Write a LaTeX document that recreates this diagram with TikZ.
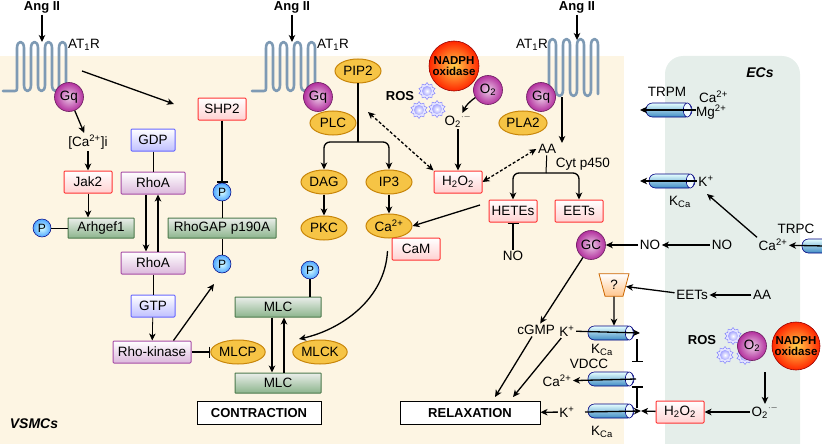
\documentclass[tikz,border=0pt]{standalone}
\usepackage{fontspec}
\setmainfont{Liberation Sans}
\usetikzlibrary{arrows.meta,shapes.geometric,calc}
\definecolor{cream}{HTML}{FDF5E3}
\definecolor{ecbg}{HTML}{E5EEEA}
\definecolor{recblue}{HTML}{7E9AB4}
\definecolor{orng}{HTML}{F6C445}
\definecolor{orngd}{HTML}{C8860A}
\definecolor{chb}{HTML}{3F8CC4}
\definecolor{gqc}{HTML}{B3309E}
\newcommand{\sub}[1]{\textsubscript{#1}}
\newcommand{\sups}[1]{\textsuperscript{#1}}
\newcommand{\myrec}[3]{% x0, top, bottom
  \draw[rec] ({#1-14},{#3+6}) -- ({#1-2},{#3+6}) .. controls ({#1},{#3+6}) .. (#1,#3) -- (#1,#2)
    .. controls (#1,{#2-8}) and ({#1+7},{#2-8}) .. ({#1+7},#2) -- ({#1+7},#3)
    .. controls ({#1+7},{#3+8}) and ({#1+14},{#3+8}) .. ({#1+14},#3) -- ({#1+14},#2)
    .. controls ({#1+14},{#2-8}) and ({#1+21},{#2-8}) .. ({#1+21},#2) -- ({#1+21},#3)
    .. controls ({#1+21},{#3+8}) and ({#1+28},{#3+8}) .. ({#1+28},#3) -- ({#1+28},#2)
    .. controls ({#1+28},{#2-8}) and ({#1+35},{#2-8}) .. ({#1+35},#2) -- ({#1+35},#3)
    .. controls ({#1+35},{#3+8}) and ({#1+42},{#3+8}) .. ({#1+42},#3) -- ({#1+42},#2)
    .. controls ({#1+42},{#2-8}) and ({#1+49},{#2-8}) .. ({#1+49},#2) -- ({#1+49},{#3+4});}
\newcommand{\rosstar}[2]{%
  \node[star, star points=10, star point ratio=1.35, draw=blue!55, fill=blue!10, minimum size=17pt, inner sep=0pt] at (#1,#2) {};
  \node[circle, shading=radial, inner color=white, outer color=blue!35, minimum size=10pt, inner sep=0pt] at (#1,#2) {};}
\newcommand{\chanx}[3]{% name, x, y
  \node[chbody] (#1) at (#2,#3) {};
  \draw[blue!50!black, line width=0.6pt, fill=cyan!6] ([xshift=-5pt]#1.east) ellipse (4pt and 7pt);}
\tikzset{
  every node/.style={font=\fontsize{13.5}{14}\selectfont, inner sep=1.5pt},
  ar/.style={line width=1.3pt, -{Stealth[length=7pt,width=6.5pt,inset=2pt]}},
  inh/.style={line width=1.3pt, -{Bar[width=11pt,line width=1.5pt]}},
  dar/.style={line width=1.3pt, densely dashed, {Stealth[length=7pt,width=6.5pt,inset=2pt]}-{Stealth[length=7pt,width=6.5pt,inset=2pt]}},
  ln/.style={line width=1pt},
  rec/.style={draw=recblue, line width=2.6pt, line cap=round, line join=round},
  redb/.style={draw=red!80, line width=1pt, top color=white, bottom color=red!18, minimum height=22pt, minimum width=48pt, rounded corners=1pt},
  grnb/.style={draw=green!25!black!70, line width=1pt, top color=green!10!gray!15!white, bottom color=green!35!black!45, minimum height=20pt, rounded corners=0.5pt},
  blub/.style={draw=blue!60, line width=1pt, top color=white, bottom color=blue!25, minimum height=22pt, minimum width=44pt, rounded corners=1pt},
  purb/.style={draw=violet!70, line width=1pt, top color=white, bottom color=violet!28, minimum height=22pt, minimum width=64pt, rounded corners=1pt},
  ell/.style={ellipse, draw=orngd, line width=1pt, fill=orng, inner sep=0.5pt, minimum width=46pt, minimum height=24pt},
  gq/.style={circle, shading=radial, inner color=gqc!25!white, outer color=gqc, draw=gqc!60!black, line width=0.6pt, minimum size=29pt, inner sep=0pt},
  pp/.style={circle, shading=radial, inner color=cyan!15!white, outer color=cyan!50!blue!70, draw=blue!50!black, line width=0.5pt, minimum size=18pt, inner sep=0pt, font=\fontsize{12}{12}\selectfont},
  nadph/.style={circle, shading=radial, inner color=orange!50!yellow!70!white, outer color=red!70!orange, draw=red!60!black, line width=0.6pt, minimum size=50pt, inner sep=0pt, align=center, font=\fontsize{11.5}{11.5}\selectfont\bfseries},
  chbody/.style={rectangle, rounded corners=6.5pt, minimum width=46pt, minimum height=14pt, inner sep=0pt, draw=blue!50!black, line width=0.6pt, top color=cyan!10, bottom color=chb},
  outb/.style={draw, line width=1pt, fill=white, minimum height=23pt, font=\fontsize{13}{14}\selectfont\bfseries},
  bold/.style={font=\fontsize{13}{14}\selectfont\bfseries},
}
\begin{document}
\begin{tikzpicture}[x=1pt,y=-1pt]
\useasboundingbox (0,0) rectangle (822,444);
% backgrounds
\fill[cream] (0,56) rectangle (624,444);
\fill[ecbg, rounded corners=18pt] (665,56) rectangle (800,470);
\node[font=\fontsize{14}{15}\selectfont\bfseries\itshape] (vsmc) at (34,424) {VSMCs};
\node[font=\fontsize{14}{15}\selectfont\bfseries\itshape] (ecs) at (760,73) {ECs};

% receptors
\myrec{17}{48}{85}
\myrec{266}{48}{85}
\myrec{549}{45}{90}
\node[bold] (ang1) at (42,7) {Ang II};
\node[bold] (ang2) at (292,7) {Ang II};
\node[bold] (ang3) at (577,7) {Ang II};
\coordinate (r1) at (42,42); \coordinate (r2) at (292,42); \coordinate (r3) at (577,40);
\node (at1) at (84,45) {AT\sub{1}R};
\node (at2) at (333,45) {AT\sub{1}R};
\node (at3) at (532,45) {AT\sub{1}R};
\draw[ar] (ang1) -- (r1);
\draw[ar] (ang2) -- (r2);
\draw[ar] (ang3) -- (r3);

% left pathway
\node[gq] (gq1) at (69,97) {Gq};
\coordinate (a1) at (82,71);
\node[redb] (shp2) at (222,109) {SHP2};
\draw[ar] (a1) -- (174,104);
\node (cai) at (88,142) {[Ca\sups{2+}]i};
\node[redb] (jak2) at (88,182) {Jak2};
\node[grnb, minimum width=66pt] (arh) at (101,228) {Arhgef1};
\node[pp] (p1) at (42,228) {P};
\draw[ar] (gq1) -- (cai);
\draw[ar] (cai) -- (jak2);
\draw[ar, line width=0.8pt] (jak2) -- (arh.north -| jak2);
\draw[ln] (p1) -- (arh);
\node[blub] (gdp) at (153,140) {GDP};
\node[purb] (rhoa1) at (153,183) {RhoA};
\node[purb] (rhoa2) at (153,263) {RhoA};
\node[blub] (gtp) at (153,306) {GTP};
\node[purb, minimum width=78pt] (rk) at (152,352) {Rho-kinase};
\draw[ln] (gdp) -- (rhoa1);
\draw[ln] (rhoa2) -- (gtp);
\draw[ar, line width=0.8pt] (gtp) -- (rk);
\draw[ar] ([xshift=-7pt]rhoa1.south) -- ([xshift=-7pt]rhoa2.north);
\draw[ar] ([xshift=5pt]rhoa2.north) -- ([xshift=5pt]rhoa1.south);
\node[pp] (p2) at (222,192) {P};
\node[grnb, minimum width=108pt] (gap) at (222,228) {RhoGAP p190A};
\node[pp] (p3) at (222,264) {P};
\draw[inh] (shp2) -- (p2);
\draw[ln] (p2) -- (gap);
\draw[ln] (gap) -- (p3);
\draw[ar] (rk.north east) ++(-18,0) coordinate (rk1) -- (214,284);
\node[ell] (mlcp) at (238,352) {MLCP};
\draw[inh] (rk) -- (mlcp);
\node[grnb, minimum width=86pt] (mlc1) at (278,307) {MLC};
\node[pp] (p4) at (310,270) {P};
\draw[line width=1.3pt] (p4) -- (p4 |- mlc1.north);
\node[ell] (mlck) at (320,352) {MLCK};
\node[grnb, minimum width=86pt] (mlc2) at (278,383) {MLC};
\draw[ar] ([xshift=-6pt]mlc1.south) -- ([xshift=-6pt]mlc2.north);
\draw[ar] ([xshift=6pt]mlc2.north) -- ([xshift=6pt]mlc1.south);
\node[outb, minimum width=124pt] (contr) at (259,413) {CONTRACTION};

% middle pathway
\node[gq] (gq2) at (318,97) {Gq};
\node[ell] (plc) at (333,123) {PLC};
\node[ell] (pip2) at (358,71) {PIP2};
\coordinate (br) at (358,142);
\node[ell] (dag) at (324,182) {DAG};
\node[ell] (ip3) at (389,182) {IP3};
\node[ell] (pkc) at (324,228) {PKC};
\node[ell] (ca1) at (389,226) {Ca\sups{2+}};
\node[redb] (cam) at (416,249) {CaM};
\draw[line width=1.3pt] (pip2) -- (br);
\draw[ar, rounded corners=6pt] (br) -- (dag |- br) -- (dag);
\draw[ar, rounded corners=6pt] (br) -- (ip3 |- br) -- (ip3);
\draw[ar] (dag) -- (pkc);
\draw[ar] (ip3) -- (ca1);
\draw[ar] (cam.west) ++(-4,2) .. controls (385,300) and (340,330) .. (299,339);

% ROS / H2O2
\node[bold] (ros1) at (400,96) {ROS};
\rosstar{427}{91}\rosstar{419}{110}\rosstar{437}{109}
\node[nadph] (nad1) at (454,66) {NADPH\\oxidase};
\node[gq] (o2a) at (488,90) {O\sub{2}};
\node (sup1) at (458,121) {O\sub{2}\sups{$\cdot-$}};
\node[redb] (h2o2a) at (458,182) {H\sub{2}O\sub{2}};
\draw[ar] (o2a) to[bend right=15] (sup1);
\draw[ar] (sup1) -- (h2o2a);
\coordinate (pipd) at (368,112);
\draw[dar] (pipd) -- (h2o2a.north west);

% right VSMC pathway
\node[gq] (gq3) at (541,97) {Gq};
\node[ell] (pla2) at (523,123) {PLA2};
\node (aa1) at (547,149) {AA};
\coordinate (r3b) at (562,97);
\draw[ar] (r3b) -- (562,143);
\draw[dar] (aa1.west) -- (h2o2a.east);
\node (cyt) at (583,164) {Cyt p450};
\coordinate (br2) at (546,173);
\node[redb] (hetes) at (513,211) {HETEs};
\node[redb] (eets1) at (579,211) {EETs};
\draw[line width=1pt] (aa1) -- (br2);
\draw[ar, rounded corners=6pt] (br2) -- (hetes |- br2) -- (hetes);
\draw[ar, rounded corners=6pt] (br2) -- (eets1 |- br2) -- (eets1);
\node (no1) at (513,256) {NO};
\draw[inh] (no1) -- (hetes);
\draw[ar] (480,205) -- (ca1.east);

% NO / GC
\node[gq] (gc) at (591,245) {GC};
\node (no2) at (650,245) {NO};
\node (no3) at (722,245) {NO};
\node (ca2) at (773,245) {Ca\sups{2+}};
\chanx{trpc}{825}{246}
\node (trpcl) at (796,229) {TRPC};
\draw[ar] (trpc.center) -- (ca2);
\draw[ar] (no2) -- (gc);
\draw[ar] (no3) -- (no2);
\draw[ar] (ca2.north west) -- (707,194);

% EC channels
\chanx{trpm}{669}{110}
\node (trpml) at (667,92) {TRPM};
\node[align=left, inner sep=0pt] (camg) at (712,105) {\hspace{3pt}Ca\sups{2+}\\Mg\sups{2+}};
\coordinate (trpmo) at (640,110);
\draw[ar] (camg.west |- trpm) -- (trpmo);
\chanx{kca1}{672}{181}
\node (kp1) at (706,181) {K\sups{+}};
\node (kcal1) at (680,202) {K\sub{Ca}};
\coordinate (kca1o) at (640,181);
\draw[ar] (kp1) -- (kca1o);

% EETs / ?
\node[trapezium, trapezium angle=75, shape border rotate=180, draw=orange!80!black, line width=0.8pt, top color=white, bottom color=orange!45, minimum width=30pt, minimum height=22pt, inner sep=0pt] (q) at (614,285) {?};
\node (eets2) at (692,295) {EETs};
\node (aa2) at (762,295) {AA};
\draw[ar] (eets2) -- (q);
\draw[ar] (aa2) -- (eets2);

% VSMC channels bottom right
\chanx{kca2}{611}{333}
\node (kp2) at (567,331) {K\sups{+}};
\node (kcal2) at (602,350) {K\sub{Ca}};
\draw[ar] (q) -- (kca2.north -| q);
\coordinate (kca2o) at (640,333);
\draw[ar] (kp2) -- (kca2o);
\node (vdccl) at (589,364) {VDCC};
\chanx{vdcc}{611}{379}
\node (ca3) at (557,381) {Ca\sups{2+}};
\draw[ar] (636,379) -- (ca3);
\chanx{kca3}{611}{411}
\node (kp3) at (567,412) {K\sups{+}};
\node (kcal3) at (602,432) {K\sub{Ca}};
\coordinate (kca3o) at (641,411);
\draw[ar] (kp3) ++(18,0) -- (kca3o);
\node (cgmp) at (536,330) {cGMP};
\draw[ar] (gc) -- (cgmp);
\node[outb, minimum width=140pt] (relax) at (470,413) {RELAXATION};
\draw[ar] (cgmp) -- (495,397);
\draw[ar] (kp2) -- (513,397);
\draw[ar] (kp3) -- (relax);
\draw[inh] (637,339) -- (637,362);
\draw[inh] (637,408) -- (637,386);

% EC ROS
\node[bold] (ros2) at (702,340) {ROS};
\rosstar{733}{336}\rosstar{725}{355}\rosstar{745}{356}
\node[gq] (o2b) at (752,346) {O\sub{2}};
\node[nadph, minimum size=48pt] (nad2) at (796,346) {NADPH\\oxidase};
\node (sup2) at (765,412) {O\sub{2}\sups{$\cdot-$}};
\node[redb] (h2o2b) at (680,412) {H\sub{2}O\sub{2}};
\draw[ar] (765,372) -- (sup2);
\draw[ar] (sup2) -- (h2o2b);
\draw[ar] (h2o2b) -- (kca3o);
\end{tikzpicture}
\end{document}
